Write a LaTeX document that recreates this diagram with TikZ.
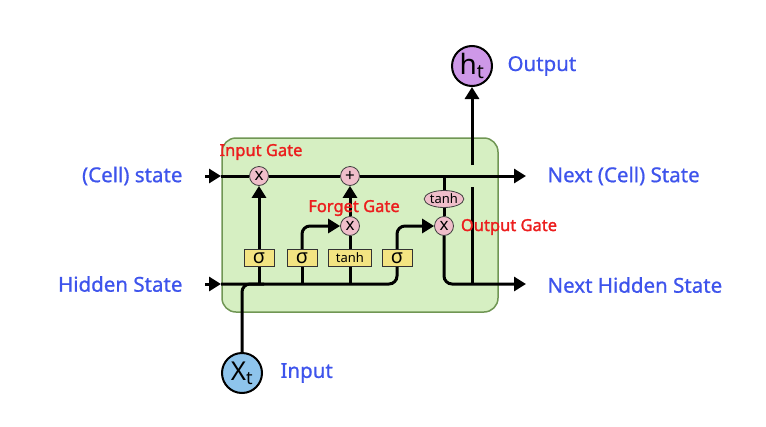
\documentclass[tikz,border=0pt]{standalone}
\usepackage{fontspec}
\setmainfont{Noto Sans}
\newfontfamily\labelfont{Noto Sans}[FakeBold=0.8]
\newfontfamily\gatefont{Noto Sans}[FakeBold=1.6]
\usetikzlibrary{shapes.geometric, arrows.meta}

\definecolor{cellgreen}{RGB}{214,239,194}
\definecolor{celledge}{RGB}{112,150,84}
\definecolor{gatepink}{RGB}{240,190,202}
\definecolor{layeryellow}{RGB}{243,228,130}
\definecolor{outviolet}{RGB}{206,152,232}
\definecolor{inblue}{RGB}{142,196,236}
\definecolor{txtblue}{RGB}{62,84,236}
\definecolor{txtred}{RGB}{236,30,30}

\begin{document}
\begin{tikzpicture}[x=1pt, y=-1pt,
    flow/.style={black, line width=3pt},
    tip/.style={-{Triangle[length=12pt, width=14pt]}},
    cellbox/.style={rectangle, rounded corners=14pt, draw=celledge, line width=1.5pt, fill=cellgreen, minimum width=276pt, minimum height=174pt},
    gate/.style={circle, draw=black!75, line width=0.8pt, fill=gatepink, inner sep=0pt, minimum size=19pt, font=\fontsize{17}{17}\selectfont},
    layer/.style={rectangle, draw=black!80, line width=0.8pt, fill=layeryellow, inner sep=0pt, minimum width=30pt, minimum height=17pt, font=\fontsize{20}{20}\selectfont},
    state/.style={circle, draw=black, line width=2pt, inner sep=0pt, minimum size=40pt},
    lbl/.style={text=txtblue, font=\fontsize{20.5}{21}\labelfont},
    gatelbl/.style={text=txtred, font=\fontsize{16.5}{17}\gatefont}
]
    \useasboundingbox (0,0) rectangle (766,426);
    % cell
    \node[cellbox] (cell) at (360,225) {};
    % gates
    \node[gate] (ig) at (259,176) {x};
    \node[gate] (add) at (350,176) {+};
    \node[gate] (fg) at (350,226) {x};
    \node[gate] (og) at (444,226) {x};
    \node[gate, ellipse, minimum width=38pt, minimum height=17pt, font=\fontsize{13}{13}\selectfont] (ot) at (444,199) {tanh};
    % layers
    \node[layer] (s1) at (259,258) {σ};
    \node[layer] (s2) at (302,258) {σ};
    \node[layer, minimum width=43pt, font=\fontsize{13}{13}\selectfont] (tl) at (350,258) {tanh};
    \node[layer] (s4) at (397,258) {σ};
    % states
    \node[state, fill=outviolet, font=\fontsize{28}{28}\selectfont] (ht) at (472,66) {h\textsubscript{t}};
    \node[state, fill=inblue, font=\fontsize{26}{26}\selectfont] (xt) at (242,373) {X\textsubscript{t}};
    \coordinate (cl) at (205,176);
    \coordinate (cin) at (221,176);
    \coordinate (cout) at (526,176);
    \coordinate (hl) at (205,284);
    \coordinate (hin) at (221,284);
    \coordinate (hout) at (526,284);
    \coordinate (xj) at (264,284);
    \coordinate (gapt) at (472,165);
    \coordinate (gapb) at (472,187);
    % cell state
    \draw[flow, tip] (cl) -- (cin);
    \draw[flow, tip] (cin) -- (ig) -- (add) -- (cout);
    % hidden state
    \draw[flow, tip] (hl) -- (hin);
    \draw[flow, rounded corners=8pt] (hin) -| (s4);
    \draw[flow, rounded corners=8pt] (xt) |- (xj);
    \draw[flow] (s1 |- hin) -- (s1);
    \draw[flow, tip] (s1) -- (ig);
    \draw[flow] (s2 |- hin) -- (s2);
    \draw[flow, rounded corners=8pt, tip] (s2) |- (fg);
    \draw[flow] (tl |- hin) -- (tl) -- (fg);
    \draw[flow, tip] (fg) -- (add);
    \draw[flow, rounded corners=8pt, tip] (s4) |- (og);
    % output
    \draw[flow] (cin -| ot) -- (ot) -- (og);
    \draw[flow, rounded corners=8pt, tip] (og) |- (hout);
    \draw[flow] (hout -| ht) -- (gapb);
    \draw[flow, tip] (gapt) -- (ht);
    % labels
    \node[lbl, anchor=east] (lcs) at (186,176) {(Cell) state};
    \node[lbl, anchor=east] (lhs) at (186,284) {Hidden State};
    \node[lbl, anchor=west] (lncs) at (544,176) {Next (Cell) State};
    \node[lbl, anchor=west] (lnhs) at (544,285) {Next Hidden State};
    \node[lbl, anchor=west] (lout) at (504,66) {Output};
    \node[lbl, anchor=west] (lin) at (277,373) {Input};
    \node[gatelbl] (lig) at (261,152) {Input Gate};
    \node[gatelbl] (lfg) at (354,208) {Forget Gate};
    \node[gatelbl] (log) at (509,227) {Output Gate};
\end{tikzpicture}
\end{document}
